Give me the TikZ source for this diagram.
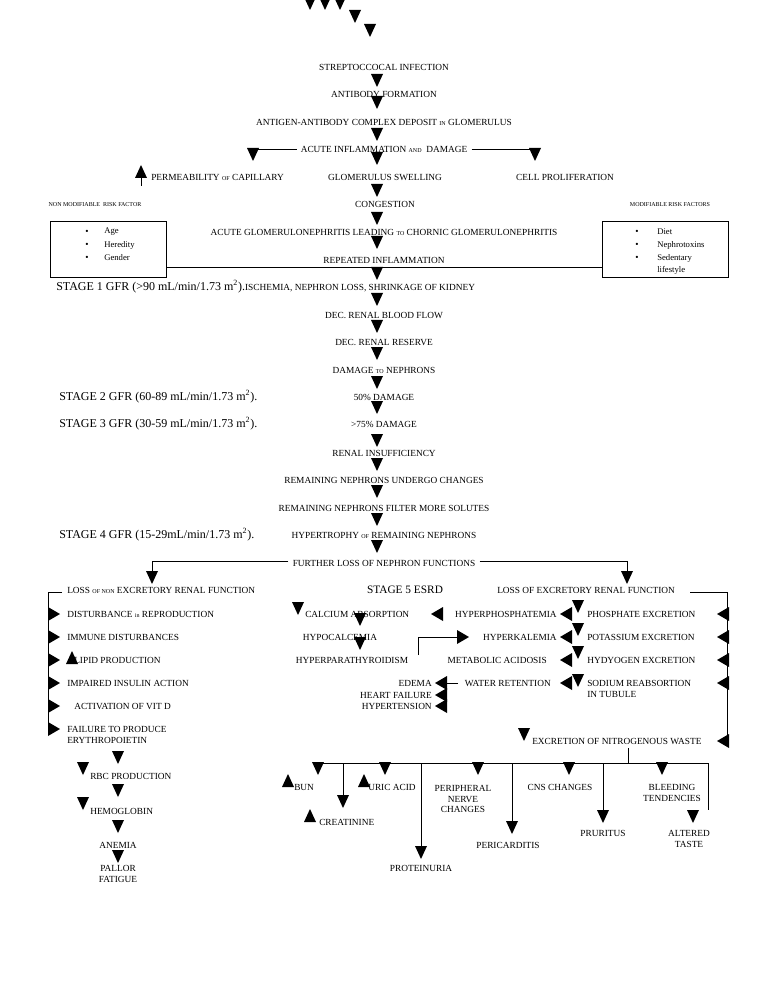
\documentclass[tikz,border=0pt]{standalone}
\usepackage{fontspec}
\setmainfont{Liberation Serif}
\newcommand\fs{\fontsize{7}{8}\selectfont}
\newcommand\fsm{\fontsize{4.5}{5}\selectfont}
\newcommand\fsg{\fontsize{9}{10}\selectfont}
\newcommand\sm[1]{{\fsm #1}}
\newcommand\trid[2]{\fill (#1-6,#2-6) -- (#1+6,#2-6) -- (#1,#2+7) -- cycle;}
\newcommand\triu[2]{\fill (#1-6,#2+6) -- (#1+6,#2+6) -- (#1,#2-7) -- cycle;}
\newcommand\tril[2]{\fill (#1+6,#2-7) -- (#1+6,#2+7) -- (#1-6,#2) -- cycle;}
\newcommand\trir[2]{\fill (#1-6,#2-7) -- (#1-6,#2+7) -- (#1+6,#2) -- cycle;}
\begin{document}
\begin{tikzpicture}[x=0.75pt,y=-0.75pt,
  t/.style={font=\fs,inner sep=0,align=center},
  tl/.style={t,anchor=west,align=left},
  tr/.style={t,anchor=east,align=right},
  g/.style={font=\fsg,inner sep=0,anchor=west},
  ln/.style={line width=0.6pt}]
\useasboundingbox (0,0) rectangle (768,994);
% top triangles
\trid{310}{3}\trid{325}{3}\trid{340}{3}\trid{355}{16}\trid{370}{30}
% main spine
\node[t] (s1) at (384,67) {STREPTOCCOCAL INFECTION};
\trid{377}{80}
\node[t] (s2) at (384,94) {ANTIBODY FORMATION};
\trid{377}{102}
\node[t] (s3) at (384,122) {ANTIGEN-ANTIBODY COMPLEX DEPOSIT \sm{IN} GLOMERULUS};
\trid{377}{134}
\node[t] (s4) at (384,149) {ACUTE INFLAMMATION \sm{AND}\ \ DAMAGE};
\draw[ln] (s4.west)++(-4,0) -- (258,149); \trid{253}{154}
\draw[ln] (s4.east)++(4,0) -- (530,149); \trid{535}{154}
\trid{377}{158}
\draw[ln] (141,186) -- (141,172); \triu{141}{172}
\node[tl] (p1) at (151,177) {PERMEABILITY \sm{OF} CAPILLARY};
\node[t] (s5) at (385,177) {GLOMERULUS SWELLING};
\node[t] (p3) at (565,177) {CELL PROLIFERATION};
\trid{377}{190}
\node[t] (s6) at (385,204) {CONGESTION};
\node[t,font=\fsm] (nm) at (95,205) {NON MODIFIABLE\ \ RISK FACTOR};
\node[t,font=\fsm] (mo) at (670,205) {MODIFIABLE RISK FACTORS};
\trid{377}{218}
\draw[ln] (50,221) rectangle (166,277);
\draw[ln] (602,221) rectangle (728,277);
\foreach \y/\w in {232/Age,245/Heredity,258/Gender}{\node[t] at (87,\y) {•};\node[tl,font=\fontsize{6.5}{7}\selectfont] at (104,\y) {\w};}
\foreach \y/\w in {232/Diet,245/Nephrotoxins,258/Sedentary}{\node[t] at (637,\y) {•};\node[tl,font=\fontsize{6.5}{7}\selectfont] at (657,\y) {\w};}
\node[tl,font=\fontsize{6.5}{7}\selectfont] at (657,270) {lifestyle};
\node[t] (s7) at (384,232) {ACUTE GLOMERULONEPHRITIS LEADING \sm{TO} CHORNIC GLOMERULONEPHRITIS};
\trid{377}{242}
\node[t] (s8) at (384,260) {REPEATED INFLAMMATION};
\draw[ln] (166,267) -- (602,267);
\trid{377}{273}
\node[g] (st1) at (56,287) {STAGE 1 GFR (>90 mL/min/1.73 m\textsuperscript{2}).{\fs ISCHEMIA, NEPHRON LOSS, SHRINKAGE OF KIDNEY}};
\trid{377}{299}
\node[t] (s9) at (384,315) {DEC. RENAL BLOOD FLOW};
\trid{377}{326}
\node[t] (s10) at (384,342) {DEC. RENAL RESERVE};
\trid{377}{353}
\node[t] (s11) at (384,370) {DAMAGE \sm{TO} NEPHRONS};
\trid{377}{382}
\node[g] (st2) at (59,397) {STAGE 2 GFR (60-89 mL/min/1.73 m\textsuperscript{2}).};
\node[t] (s12) at (384,397) {50\% DAMAGE};
\trid{377}{407}
\node[g] (st3) at (59,424) {STAGE 3 GFR (30-59 mL/min/1.73 m\textsuperscript{2}).};
\node[t] (s13) at (384,424) {>75\% DAMAGE};
\trid{377}{440}
\node[t] (s14) at (384,453) {RENAL INSUFFICIENCY};
\trid{377}{464}
\node[t] (s15) at (384,480) {REMAINING NEPHRONS UNDERGO CHANGES};
\trid{377}{491}
\node[t] (s16) at (384,508) {REMAINING NEPHRONS FILTER MORE SOLUTES};
\trid{377}{519}
\node[g] (st4) at (59,535) {STAGE 4 GFR (15-29mL/min/1.73 m\textsuperscript{2}).};
\node[t] (s17) at (384,535) {HYPERTROPHY \sm{OF} REMAINING NEPHRONS};
\trid{377}{546}
\node[t] (s18) at (384,563) {FURTHER LOSS OF NEPHRON FUNCTIONS};
\draw[ln] (s18.west)++(-4,-2) -- (152,561) -- (152,571); \trid{152}{577}
\draw[ln] (s18.east)++(4,-2) -- (627,561) -- (627,571); \trid{627}{577}
% left branch
\node[tl] (ln1) at (67,590) {LOSS \sm{OF NON} EXCRETORY RENAL FUNCTION};
\draw[ln] (62,592) -- (48,592) -- (48,730);
\foreach \y in {614,637,660,683,706,729}{\trir{54}{\y}}
\node[tl] at (67,614) {DISTURBANCE \sm{in} REPRODUCTION};
\node[tl] at (67,637) {IMMUNE DISTURBANCES};
\triu{72}{658}
\node[tl] at (67,660) {\ \ \ LIPID PRODUCTION};
\node[tl] at (67,683) {IMPAIRED INSULIN ACTION};
\node[tl] at (74,706) {ACTIVATION OF VIT D};
\node[tl] at (67,735) {FAILURE TO PRODUCE\\ERYTHROPOIETIN};
\trid{118}{757}\trid{83}{768}
\node[tl] at (90,776) {RBC PRODUCTION};
\trid{118}{790}\trid{83}{803}
\node[tl] at (90,811) {HEMOGLOBIN};
\trid{118}{826}
\node[t] at (118,845) {ANEMIA};
\trid{118}{856}
\node[t] at (118,874) {PALLOR\\FATIGUE};
% middle
\node[t,font=\fontsize{8.5}{9}\selectfont] (st5) at (405,590) {STAGE 5 ESRD};
\node[tl] (le) at (497,590) {LOSS OF EXCRETORY RENAL FUNCTION};
\draw[ln] (690,592) -- (727,592) -- (727,741);
\foreach \y in {614,637,660,683,741}{\tril{723}{\y}}
\trid{578}{606}\node[tl] at (587,614) {PHOSPHATE EXCRETION};
\trid{578}{629}\node[tl] at (587,637) {POTASSIUM EXCRETION};
\trid{578}{652}\node[tl] at (587,660) {HYDYOGEN EXCRETION};
\trid{578}{680}\node[tl] at (587,689) {SODIUM REABSORTION\\IN TUBULE};
\foreach \y in {614,637,660,683}{\tril{566}{\y}}
\node[tr] at (557,614) {HYPERPHOSPHATEMIA};
\tril{437}{614}
\trid{298}{608}
\node[tl] at (305,614) {CALCIUM ABSORPTION};
\trid{360}{619}
\node[t] at (340,637) {HYPOCALCEMIA};
\trid{360}{643}
\node[t] at (352,660) {HYPERPARATHYROIDISM};
\draw[ln] (418,655) -- (418,637) -- (458,637); \trir{463}{637}
\node[tr] at (557,637) {HYPERKALEMIA};
\node[tr] at (547,660) {METABOLIC ACIDOSIS};
\node[tr] at (551,683) {WATER RETENTION};
\draw[ln] (458,683) -- (446,683); \tril{441}{683}
\tril{441}{695}\tril{441}{706}
\node[tr] at (432,683) {EDEMA};
\node[tr] at (432,695) {HEART FAILURE};
\node[tr] at (432,706) {HYPERTENSION};
% nitrogenous
\trid{524}{734}
\node[tl] (nw) at (532,741) {EXCRETION OF NITROGENOUS WASTE};
\draw[ln] (628,748) -- (628,763);
\draw[ln] (318,763) -- (708,763);
\foreach \x in {318,385,478,569,662}{\trid{\x}{768}}
\draw[ln] (343,763) -- (343,795); \trid{343}{801}
\draw[ln] (421,763) -- (421,846); \trid{421}{852}
\draw[ln] (512,763) -- (512,821); \trid{512}{827}
\draw[ln] (603,763) -- (603,810); \trid{603}{816}
\draw[ln] (708,763) -- (708,810); \trid{693}{816}
\triu{288}{781}\node[tl] at (294,787) {BUN};
\triu{364}{781}\node[tl] at (368,787) {URIC ACID};
\triu{310}{816}\node[tl] at (319,822) {CREATININE};
\node[t] at (463,799) {PERIPHERAL\\NERVE\\CHANGES};
\node[t] at (560,787) {CNS CHANGES};
\node[t] at (672,793) {BLEEDING\\TENDENCIES};
\node[t] at (508,845) {PERICARDITIS};
\node[t] at (421,868) {PROTEINURIA};
\node[t] at (603,833) {PRURITUS};
\node[t] at (689,839) {ALTERED\\TASTE};
\end{tikzpicture}
\end{document}
